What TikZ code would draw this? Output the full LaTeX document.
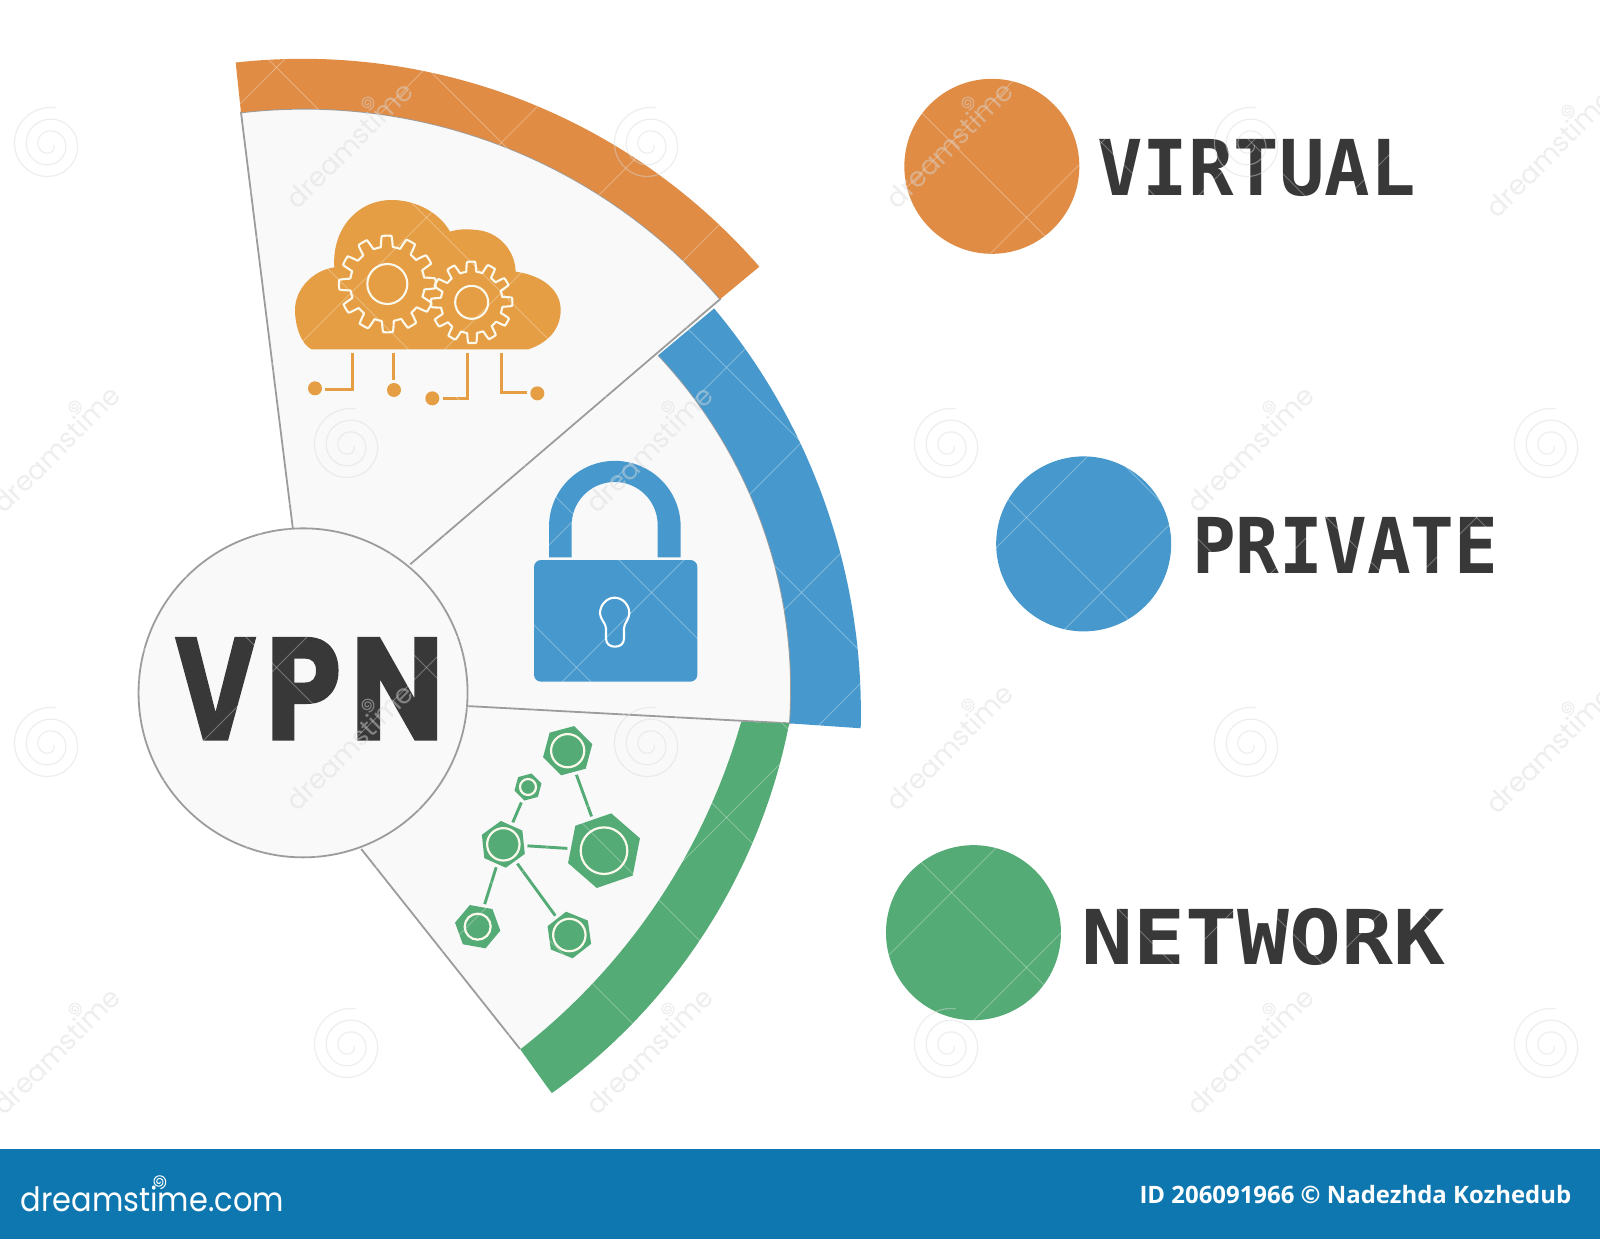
\documentclass[tikz,border=0pt]{standalone}
\usepackage{fontspec}
\usepackage{graphicx}
\usetikzlibrary{shapes.geometric}
\newfontfamily\monof{DejaVu Sans Mono}
\newfontfamily\popf{Poppins}
\newfontfamily\openf{Open Sans}
\newfontfamily\vpnf[BoldFeatures={FakeBold=1.2}]{Poppins}
\definecolor{cOrange}{HTML}{E08C45}
\definecolor{cCloud}{HTML}{E59E44}
\definecolor{cBlue}{HTML}{4799CD}
\definecolor{cGreen}{HTML}{54AB75}
\definecolor{cFan}{HTML}{F9F9FA}
\definecolor{cEdge}{HTML}{9C9C9C}
\definecolor{cText}{HTML}{383838}
\definecolor{cBar}{HTML}{0F77B0}
\definecolor{cWm}{HTML}{DADADA}
\definecolor{cRing}{HTML}{FBF8EC}
\newdimen\uu \uu=1.0204pt
\newcommand\fittext[3]{\resizebox{#1\uu}{#2\uu}{#3}}
\tikzset{
  fanedge/.style={draw=cEdge,line width=1.8pt,line join=round},
  word/.style={anchor=west,inner sep=0pt,text=cText},
  bigdot/.style={circle,inner sep=0pt,minimum size=175pt},
  hexa/.style={regular polygon,regular polygon sides=6,fill=cGreen,inner sep=0pt,outer sep=3.5pt},
  hexring/.style={draw=cRing,line width=2.2pt,fill=cGreen},
  hexlink/.style={draw=cGreen,line width=2.9pt},
  cloudline/.style={draw=cCloud,line width=2.4pt},
  gearline/.style={draw=cRing,line width=2.1pt,line join=round},
  wmspiral/.style={draw=cWm,line width=1.2pt},
  wmtext/.style={text=cWm,rotate=45,inner sep=0pt,font=\popf\fontsize{27}{27}\selectfont},
  latticeline/.style={draw=white,line width=0.8pt,opacity=0.3}
}
\begin{document}
\begin{tikzpicture}[x=1pt,y=-1pt]
\useasboundingbox (0,0) rectangle (1600,1239);
\fill[white] (0,0) rectangle (1600,1239);
\fill[cBar] (0,1149) rectangle (1600,1239);

\begin{scope}[x=1.0204pt,y=-1.0204pt]
% fans
\fill[cFan] (297,679) -- (287,518) -- (236.2,110.4)
  -- plot[domain=-96.63:-40.81,samples=50] ({298.3+538.5*cos(\x)},{645+538.5*sin(\x)})
  -- (402,553) -- cycle;
\fill[cFan] (297,679) -- (402,553) -- (645.2,347.9)
  -- plot[domain=-43.3:4,samples=50] ({297.6+477.7*cos(\x)},{675.6+477.7*sin(\x)})
  -- (459,692) -- cycle;
\fill[cFan] (297,679) -- (459,692) -- (725.9,707.2)
  -- plot[domain=15.89:52.1,samples=50] ({127.2+623*cos(\x)},{536.8+623*sin(\x)})
  -- (354,832) -- cycle;

% edges of the fans
\draw[fanedge] (287,518) -- (236.2,110.4)
  -- plot[domain=-96.63:-40.81,samples=50] ({298.3+538.5*cos(\x)},{645+538.5*sin(\x)})
  -- (402,553);
\draw[fanedge] plot[domain=-43.3:4,samples=50] ({297.6+477.7*cos(\x)},{675.6+477.7*sin(\x)})
  -- (459,692);
\draw[fanedge] (509.6,1028) -- (354,832);

% bands
\fill[cOrange] plot[domain=-96.35:-41.05,samples=60] ({296.6+593.5*cos(\x)},{651.1+593.5*sin(\x)})
  -- plot[domain=-40.81:-96.63,samples=60] ({298.3+538.5*cos(\x)},{645+538.5*sin(\x)}) -- cycle;
\fill[cBlue] plot[domain=-39.9:1.41,samples=60] ({226+617.7*cos(\x)},{698.5+617.7*sin(\x)})
  -- plot[domain=4:-43.3,samples=60] ({297.6+477.7*cos(\x)},{675.6+477.7*sin(\x)}) -- cycle;
\fill[cGreen] plot[domain=11.06:54.36,samples=60] ({200.5+583.8*cos(\x)},{596.9+583.8*sin(\x)})
  -- plot[domain=52.1:15.89,samples=60] ({127.2+623*cos(\x)},{536.8+623*sin(\x)}) -- cycle;

% hub
\node[circle,draw=cEdge,line width=1.8pt,fill=cFan,minimum size=329pt,inner sep=0pt] (hub) at (297,679) {};
\node[anchor=west,inner sep=0pt,text=cText] (vpn) at (171,675) {\vpnf\bfseries\fittext{80}{100}{V}\hspace{9\uu}\fittext{74}{100}{P}\hspace{9\uu}\fittext{92}{100}{N}};

% legend
\node[bigdot,fill=cOrange] (dotV) at (972,163) {};
\node[bigdot,fill=cBlue] (dotP) at (1062,533) {};
\node[bigdot,fill=cGreen] (dotN) at (954,914) {};
\node[word] (wV) at (1075,165) {\fittext{312}{55}{\monof\bfseries VIRTUAL}};
\node[word] (wP) at (1168,535) {\fittext{300}{55}{\monof\bfseries PRIVATE}};
\node[word] (wN) at (1060,918) {\fittext{356}{55}{\monof\bfseries NETWORK}};

% footer
\node[inner sep=0pt,anchor=south west,text=white] (logo) at (20,1188) {\fittext{258}{25}{\popf dreamstime.com}};
\draw[white,line width=1pt] plot[domain=0:800,samples=60] ({156+(1+0.0075*\x)*cos(\x)},{1158+(1+0.0075*\x)*sin(\x)});
\node[inner sep=0pt,anchor=east,text=white] (credit) at (1540,1171) {\resizebox{423\uu}{!}{\openf\bfseries ID 206091966 © Nadezhda Kozhedub}};
\end{scope}

% cloud icon
\begin{scope}[shift={(270pt,-180pt)},x=0.33333pt,y=-0.33333pt]
\fill[cCloud] (125,508) .. controls (95,495) and (75,440) .. (75,390)
  .. controls (75,330) and (125,272) .. (193,262)
  .. controls (185,150) and (260,60) .. (365,60)
  .. controls (440,60) and (510,100) .. (540,155)
  .. controls (570,145) and (600,148) .. (620,150)
  .. controls (685,155) and (735,210) .. (737,275)
  .. controls (810,285) and (872,325) .. (872,390)
  .. controls (872,450) and (830,490) .. (775,508) -- cycle;
\draw[gearline] plot[domain=0:360,samples=361] ({352+(112+33*max(0,min(1,0.5+1.5*cos(12*\x+10))))*cos(\x)},{312+(112+33*max(0,min(1,0.5+1.5*cos(12*\x+10))))*sin(\x)}) -- cycle;
\draw[gearline] (352,312) circle[radius=20pt];
\draw[gearline] plot[domain=0:360,samples=361] ({605+(93+29*max(0,min(1,0.5+1.5*cos(12*\x+10))))*cos(\x)},{367+(93+29*max(0,min(1,0.5+1.5*cos(12*\x+10))))*sin(\x)}) -- cycle;
\draw[gearline] (605,367) circle[radius=16.5pt];
\draw[cloudline] (248,518) -- (248,628) -- (165,628);
\draw[cloudline] (370,518) -- (370,600);
\draw[cloudline] (592,518) -- (592,655) -- (520,655);
\draw[cloudline] (695,518) -- (695,637) -- (772,637);
\fill[cCloud] (135,625) circle[radius=7pt];
\fill[cCloud] (372,630) circle[radius=7pt];
\fill[cCloud] (487,655) circle[radius=7pt];
\fill[cCloud] (802,640) circle[radius=7pt];
\end{scope}

% lock icon
\begin{scope}[shift={(520pt,-450pt)},x=0.33333pt,y=-0.33333pt]
\fill[cBlue] (87,322) -- (87,230)
  -- plot[domain=180:0,samples=50] ({284.5+197.5*cos(\x)},{230-197.5*sin(\x)})
  -- (482,322) -- (413,322) -- (413,225)
  -- plot[domain=0:180,samples=50] ({284+129*cos(\x)},{225-129*sin(\x)})
  -- (155,322) -- cycle;
\fill[cBlue,rounded corners=7pt] (42,330) rectangle (532,695);
\draw[white,line width=2.1pt,line join=round] (240,490)
  .. controls (240,465) and (260,443) .. (284,443)
  .. controls (308,443) and (328,465) .. (328,490)
  .. controls (328,507) and (312,520) .. (312,535)
  -- (312,565)
  .. controls (312,582) and (300,590) .. (285,590)
  .. controls (270,590) and (258,582) .. (258,565)
  -- (258,535)
  .. controls (258,520) and (240,507) .. (240,490) -- cycle;
\end{scope}

% network icon
\begin{scope}[shift={(430pt,-710pt)},x=0.33333pt,y=-0.33333pt]
\node[hexa,minimum size=51pt,regular polygon rotate=15] (hA) at (413,122) {};
\node[hexa,minimum size=28pt,regular polygon rotate=15] (hB) at (294,231) {};
\node[hexa,minimum size=47pt,regular polygon rotate=-24] (hC) at (220,403) {};
\node[hexa,minimum size=76pt,regular polygon rotate=19] (hD) at (522,422) {};
\node[hexa,minimum size=46pt,regular polygon rotate=-10] (hE) at (143,650) {};
\node[hexa,minimum size=47pt,regular polygon rotate=-22] (hF) at (418,675) {};
\draw[hexlink] (hA) -- (hD);
\draw[hexlink] (hB) -- (hC);
\draw[hexlink] (hC) -- (hD);
\draw[hexlink] (hC) -- (hE);
\draw[hexlink] (hC) -- (hF);
\draw[hexring] (hA.center) circle[radius=16.6pt];
\draw[hexring] (hB.center) circle[radius=8pt];
\draw[hexring] (hC.center) circle[radius=16.2pt];
\draw[hexring] (hD.center) circle[radius=23.3pt];
\draw[hexring] (hE.center) circle[radius=13pt];
\draw[hexring] (hF.center) circle[radius=16.2pt];
\end{scope}

% watermark lattice, over everything above the footer
\begin{scope}
\clip (0,0) rectangle (1600,1149);
\foreach \k in {-8,...,15}{
  \draw[latticeline] ({644+150*\k},0) -- ({644+150*\k-1149},1149);
  \draw[latticeline] ({59+150*\k},0) -- ({59+150*\k+1149},1149);
}
\end{scope}

% watermark marks
\begin{scope}[x=1.0204pt,y=-1.0204pt,opacity=0.45]
\foreach \wx/\wy in {48/142,636/142,1224/142,342/437,930/437,1518/437,48/730,636/730,1224/730,342/1025,930/1025,1518/1025}{
  \draw[wmspiral] plot[domain=0:1000,samples=120] ({\wx+(5+0.032*\x)*cos(\x)},{\wy+(5+0.032*\x)*sin(\x)});
}
\foreach \wx/\wy in {342/142,930/142,1518/150,55/440,636/440,1225/440,342/732,930/732,1518/735,55/1030,636/1030,1225/1030}{
  \node[wmtext] at (\wx,\wy) {dreamstime};
  \draw[wmspiral] plot[domain=0:800,samples=50] ({\wx+18+(1+0.0075*\x)*cos(\x)},{\wy-41+(1+0.0075*\x)*sin(\x)});
}
\end{scope}
\end{tikzpicture}
\end{document}
